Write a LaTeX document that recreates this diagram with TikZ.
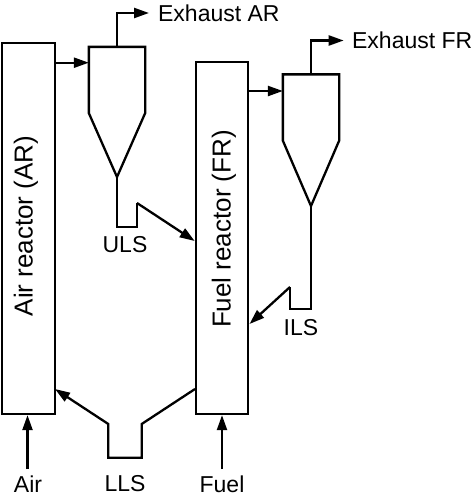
\documentclass[tikz,border=0pt]{standalone}
\usepackage{fontspec}
\setmainfont{Liberation Sans}
\usetikzlibrary{arrows.meta,positioning,calc}

\begin{document}
\begin{tikzpicture}[
  x=1pt, y=-1pt,
  line width=2.3pt,
  reactor/.style={draw, minimum width=52.5pt, inner sep=0pt},
  cyclone/.style={minimum width=54pt, minimum height=64pt, inner sep=0pt},
  tag/.style={font=\fontsize{23}{26}\selectfont, inner sep=0pt},
  bigtag/.style={font=\fontsize{26}{30}\selectfont, inner sep=0pt, rotate=90},
  flow/.style={-{Triangle[length=15pt,width=10pt]}}
]
\useasboundingbox (0,0) rectangle (474,501);

% Reactors
\node[reactor, minimum height=371pt] (ar) at (28.5,228.5) {};
\node[reactor, minimum height=352pt] (fr) at (222,238) {};
\node[bigtag] (arlabel) at (26,226) {Air reactor (AR)};
\node[bigtag] (frlabel) at (224,229) {Fuel reactor (FR)};

% Cyclone on the air side
\node[cyclone] (cyca) at (117,80) {};
\coordinate (cyca tip) at (117,177);
\coordinate (ulsa) at (117,227);
\coordinate (ulsb) at (137,227);
\coordinate (ulsc) at (137,203);
\coordinate (ulsend) at (194.7,241);
\coordinate (exa) at (117,13);
\coordinate (exaend) at (149,13);
\coordinate (ara) at (55,62.7);
\draw (cyca tip) -- (cyca.south west) -- (cyca.north west) -- (cyca.north east) -- (cyca.south east) -- cycle;
\draw (cyca tip) -- (ulsa) -- (ulsb) -- (ulsc);
\draw[flow] (ulsc) -- (ulsend);
\draw[flow] (cyca.north) -- (exa) -- (exaend);
\draw[flow] (ar.east |- ara) -- (cyca.west |- ara);
\node[tag, anchor=west] (exhaustar) at (157,13) {Exhaust AR};
\node[tag] (uls) at (125,244.5) {ULS};

% Cyclone on the fuel side
\node[cyclone] (cycf) at (311,107.5) {};
\coordinate (cycf tip) at (311,206);
\coordinate (ilsa) at (311,309);
\coordinate (ilsb) at (290,309);
\coordinate (ilsc) at (290,287);
\coordinate (ilsend) at (249.5,324);
\coordinate (exf) at (311,40.5);
\coordinate (exfend) at (343.7,40.5);
\coordinate (frb) at (249,91);
\draw (cycf tip) -- (cycf.south west) -- (cycf.north west) -- (cycf.north east) -- (cycf.south east) -- cycle;
\draw (cycf tip) -- (ilsa) -- (ilsb) -- (ilsc);
\draw[flow] (ilsc) -- (ilsend);
\draw[flow] (cycf.north) -- (exf) -- (exfend);
\draw[flow] (fr.east |- frb) -- (cycf.west |- frb);
\node[tag, anchor=west] (exhaustfr) at (351,40) {Exhaust FR};
\node[tag] (ils) at (301,328) {ILS};

% Loop seal at the bottom
\coordinate (llsstart) at (195,389);
\coordinate (llsa) at (141.7,424);
\coordinate (llsb) at (141.7,457.7);
\coordinate (llsc) at (108.3,457.7);
\coordinate (llsd) at (108.3,424);
\coordinate (llsend) at (55,389);
\draw[flow] (llsstart) -- (llsa) -- (llsb) -- (llsc) -- (llsd) -- (llsend);
\node[tag] (lls) at (125,484) {LLS};

% Feeds
\node[tag] (air) at (28,484) {Air};
\node[tag] (fuel) at (222,484) {Fuel};
\coordinate (airstart) at (27.5,469);
\coordinate (fuelstart) at (222,469);
\draw[flow] (airstart) -- (airstart |- ar.south);
\draw[flow] (fuelstart) -- (fuelstart |- fr.south);

\end{tikzpicture}
\end{document}
